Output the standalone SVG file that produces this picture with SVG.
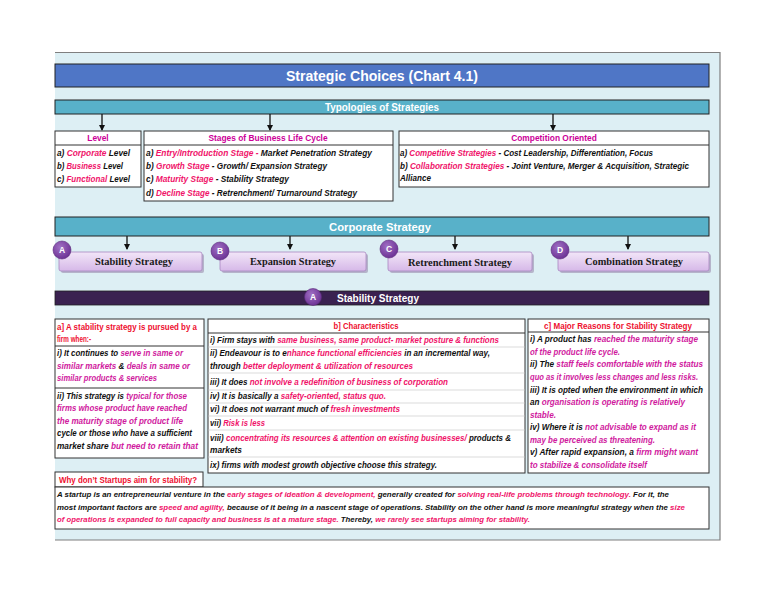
<svg xmlns="http://www.w3.org/2000/svg" width="768" height="594" viewBox="0 0 768 594">
<style>
.t{font-family:"Liberation Sans",Arial,sans-serif;font-size:8.4px;font-weight:bold;font-style:italic;fill:#111}
.bt{font-family:"Liberation Sans",Arial,sans-serif;font-size:8px;font-weight:bold;font-style:italic;fill:#111}
.p{fill:#F0146A}
.m{fill:#D01A9E}
.h{font-family:"Liberation Sans",Arial,sans-serif;font-size:8.4px;font-weight:bold;fill:#CC0099;text-anchor:middle}
.r{font-family:"Liberation Sans",Arial,sans-serif;font-size:8.6px;font-weight:bold;fill:#EE1030}
.wb{fill:#fff;stroke:#333;stroke-width:1}
.bar{stroke:#222;stroke-width:1}
.wt{font-family:"Liberation Sans",Arial,sans-serif;font-weight:bold;fill:#fff;text-anchor:middle}
.sb{fill:url(#lav);stroke:#A886C0;stroke-width:0.8}
.sbs{fill:#8E7AA0;opacity:0.5}
.st{font-family:"Liberation Serif","Times New Roman",serif;font-size:10.5px;font-weight:bold;fill:#1a1a1a;text-anchor:middle}
.c{fill:url(#pur);stroke:#5A2C7A;stroke-width:0.6}
.cl{font-family:"Liberation Sans",Arial,sans-serif;font-size:8.5px;font-weight:bold;fill:#fff;text-anchor:middle}
.sep{stroke:#c4c4c4;stroke-width:0.6}
.arr{stroke:#111;stroke-width:1.3;fill:none;marker-end:url(#ah)}
</style>
<defs>
<marker id="ah" markerWidth="6" markerHeight="6" refX="5" refY="3" orient="auto" markerUnits="userSpaceOnUse">
<path d="M0,0 L6,3 L0,6 z" fill="#111"/>
</marker>
<linearGradient id="lav" x1="0" y1="0" x2="0" y2="1">
<stop offset="0" stop-color="#F2E6F8"/>
<stop offset="1" stop-color="#D6B8E8"/>
</linearGradient>
<radialGradient id="pur" cx="0.4" cy="0.35" r="0.7">
<stop offset="0" stop-color="#A070C4"/>
<stop offset="1" stop-color="#6A2E92"/>
</radialGradient>
</defs>

<g id="panel">
<rect x="55" y="52" width="665" height="488" fill="#DDEFF4"/>
<path d="M55,52.5 H720 V540 H55" fill="none" stroke="#7f7f7f" stroke-width="1.2"/>
</g>

<g id="title">
<rect class="bar" x="55" y="64" width="654" height="23" fill="#4F76C6"/>
<text class="wt" x="382" y="81" font-size="15.5" textLength="192" lengthAdjust="spacingAndGlyphs">Strategic Choices (Chart 4.1)</text>
</g>

<g id="typologies">
<rect class="bar" x="55" y="100" width="654" height="14" fill="#58B1C9"/>
<text class="wt" x="382" y="110.5" font-size="10" textLength="114" lengthAdjust="spacingAndGlyphs">Typologies of Strategies</text>
</g>

<g id="connectors">
<line class="arr" x1="102" y1="114" x2="102" y2="130"/>
<line class="arr" x1="270" y1="114" x2="270" y2="130"/>
<line class="arr" x1="553" y1="114" x2="553" y2="130"/>
<line class="arr" x1="127" y1="236" x2="127" y2="249"/>
<line class="arr" x1="290" y1="236" x2="290" y2="249"/>
<line class="arr" x1="455" y1="236" x2="455" y2="249"/>
<line class="arr" x1="628" y1="236" x2="628" y2="249"/>
</g>

<g id="level">
<rect class="wb" x="55" y="131" width="86" height="56"/>
<line x1="55" y1="145" x2="141" y2="145" stroke="#333"/>
<text class="h" x="98" y="141">Level</text>
<text class="t" x="57" y="155.5" textLength="73" lengthAdjust="spacingAndGlyphs">a) <tspan class="p">Corporate</tspan> Level</text>
<text class="t" x="57" y="168.5" textLength="66" lengthAdjust="spacingAndGlyphs">b) <tspan class="p">Business</tspan> Level</text>
<text class="t" x="57" y="181.5" textLength="73" lengthAdjust="spacingAndGlyphs">c) <tspan class="p">Functional</tspan> Level</text>
</g>

<g id="stages">
<rect class="wb" x="144" y="131" width="249" height="70"/>
<line x1="144" y1="145" x2="393" y2="145" stroke="#333"/>
<text class="h" x="268" y="141">Stages of Business Life Cycle</text>
<text class="t" x="146" y="155.5" textLength="226" lengthAdjust="spacingAndGlyphs">a) <tspan class="p">Entry/Introduction Stage -</tspan> Market Penetration Strategy</text>
<text class="t" x="146" y="168.5" textLength="181" lengthAdjust="spacingAndGlyphs">b) <tspan class="p">Growth Stage</tspan> - Growth/ Expansion Strategy</text>
<text class="t" x="146" y="181.5" textLength="143" lengthAdjust="spacingAndGlyphs">c) <tspan class="p">Maturity Stage</tspan> - Stability Strategy</text>
<text class="t" x="146" y="195.5" textLength="211" lengthAdjust="spacingAndGlyphs">d) <tspan class="p">Decline Stage</tspan> - Retrenchment/ Turnaround Strategy</text>
</g>

<g id="competition">
<rect class="wb" x="399" y="131" width="310" height="56"/>
<line x1="399" y1="145" x2="709" y2="145" stroke="#333"/>
<text class="h" x="554" y="141">Competition Oriented</text>
<text class="t" x="400" y="155.5" textLength="253" lengthAdjust="spacingAndGlyphs">a) <tspan class="p">Competitive Strategies</tspan> - Cost Leadership, Differentiation, Focus</text>
<text class="t" x="400" y="168.5" textLength="289" lengthAdjust="spacingAndGlyphs">b) <tspan class="p">Collaboration Strategies</tspan> - Joint Venture, Merger &amp; Acquisition, Strategic</text>
<text class="t" x="400" y="181" textLength="31" lengthAdjust="spacingAndGlyphs">Alliance</text>
</g>

<g id="corporate">
<rect class="bar" x="55" y="217" width="654" height="19" fill="#58B1C9"/>
<text class="wt" x="380" y="230.5" font-size="11.5" textLength="102" lengthAdjust="spacingAndGlyphs">Corporate Strategy</text>
</g>

<g id="stability">
<rect class="sbs" x="61" y="254" width="143" height="19" rx="2"/>
<rect class="sb" x="59" y="252" width="143" height="19" rx="2"/>
<text class="st" x="134" y="265" textLength="78" lengthAdjust="spacingAndGlyphs">Stability Strategy</text>
<circle class="c" cx="62" cy="250" r="9"/>
<text class="cl" x="62" y="253">A</text>
</g>

<g id="expansion">
<rect class="sbs" x="222" y="254" width="146" height="19" rx="2"/>
<rect class="sb" x="220" y="252" width="146" height="19" rx="2"/>
<text class="st" x="293" y="265" textLength="86" lengthAdjust="spacingAndGlyphs">Expansion Strategy</text>
<circle class="c" cx="220" cy="251" r="9"/>
<text class="cl" x="220" y="254">B</text>
</g>

<g id="retrenchment">
<rect class="sbs" x="390" y="254" width="144" height="19" rx="2"/>
<rect class="sb" x="388" y="252" width="144" height="19" rx="2"/>
<text class="st" x="460" y="265.5" textLength="104" lengthAdjust="spacingAndGlyphs">Retrenchment Strategy</text>
<circle class="c" cx="389" cy="249" r="9"/>
<text class="cl" x="389" y="252">C</text>
</g>

<g id="combination">
<rect class="sbs" x="560" y="254" width="151" height="19" rx="2"/>
<rect class="sb" x="558" y="252" width="151" height="19" rx="2"/>
<text class="st" x="634" y="265" textLength="98" lengthAdjust="spacingAndGlyphs">Combination Strategy</text>
<circle class="c" cx="560" cy="250" r="9"/>
<text class="cl" x="560" y="253">D</text>
</g>

<g id="stability-bar">
<rect x="55" y="291" width="654" height="14" fill="#3A2150" stroke="#222" stroke-width="0.8"/>
<circle class="c" cx="313" cy="297" r="8.5"/>
<text class="cl" x="313" y="300">A</text>
<text class="wt" x="378" y="301.5" font-size="10" textLength="82" lengthAdjust="spacingAndGlyphs">Stability Strategy</text>
</g>

<g id="col-a">
<rect class="wb" x="55" y="319" width="149" height="139"/>
<line x1="55" y1="346" x2="204" y2="346" stroke="#333"/>
<line x1="55" y1="388" x2="204" y2="388" stroke="#333"/>
<text class="r" x="57" y="329.5" textLength="140" lengthAdjust="spacingAndGlyphs">a] A stability strategy is pursued by a</text>
<text class="r" x="57" y="341.5" textLength="34" lengthAdjust="spacingAndGlyphs">firm when:-</text>
<text class="t" x="57" y="356" textLength="126" lengthAdjust="spacingAndGlyphs">i) It continues to <tspan class="m">serve in same or</tspan></text>
<text class="t" x="57" y="368.5" textLength="133" lengthAdjust="spacingAndGlyphs"><tspan class="m">similar markets</tspan> &amp; <tspan class="m">deals in same or</tspan></text>
<text class="t" x="57" y="381" textLength="100" lengthAdjust="spacingAndGlyphs"><tspan class="m">similar products &amp; services</tspan></text>
<text class="t" x="57" y="398.5" textLength="130" lengthAdjust="spacingAndGlyphs">ii) This strategy is <tspan class="m">typical for those</tspan></text>
<text class="t" x="57" y="411" textLength="130" lengthAdjust="spacingAndGlyphs"><tspan class="m">firms whose product have reached</tspan></text>
<text class="t" x="57" y="423.5" textLength="126" lengthAdjust="spacingAndGlyphs"><tspan class="m">the maturity stage of product life</tspan></text>
<text class="t" x="57" y="436" textLength="135" lengthAdjust="spacingAndGlyphs">cycle or those who have a sufficient</text>
<text class="t" x="57" y="448.5" textLength="141" lengthAdjust="spacingAndGlyphs">market share <tspan class="m">but need to retain that</tspan></text>
</g>

<g id="col-b">
<rect class="wb" x="208" y="319" width="317" height="154"/>
<line x1="208" y1="333" x2="525" y2="333" stroke="#333"/>
<line class="sep" x1="208" y1="347" x2="525" y2="347"/>
<line class="sep" x1="208" y1="373" x2="525" y2="373"/>
<line class="sep" x1="208" y1="390" x2="525" y2="390"/>
<line class="sep" x1="208" y1="403" x2="525" y2="403"/>
<line class="sep" x1="208" y1="416" x2="525" y2="416"/>
<line class="sep" x1="208" y1="430" x2="525" y2="430"/>
<line class="sep" x1="208" y1="457" x2="525" y2="457"/>
<text class="r" x="366" y="329" text-anchor="middle" textLength="65" lengthAdjust="spacingAndGlyphs">b] Characteristics</text>
<text class="t" x="210" y="343" textLength="289" lengthAdjust="spacingAndGlyphs">i) Firm stays with <tspan class="p">same business, same product- market posture &amp; functions</tspan></text>
<text class="t" x="210" y="356" textLength="280" lengthAdjust="spacingAndGlyphs">ii) Endeavour is to e<tspan class="p">nhance functional efficiencies</tspan> in an incremental way,</text>
<text class="t" x="210" y="369" textLength="203" lengthAdjust="spacingAndGlyphs">through <tspan class="p">better deployment &amp; utilization of resources</tspan></text>
<text class="t" x="210" y="385" textLength="238" lengthAdjust="spacingAndGlyphs">iii) It does <tspan class="p">not involve a redefinition of business of corporation</tspan></text>
<text class="t" x="210" y="399" textLength="176" lengthAdjust="spacingAndGlyphs">iv) It is basically a <tspan class="p">safety-oriented, status quo.</tspan></text>
<text class="t" x="210" y="412" textLength="190" lengthAdjust="spacingAndGlyphs">vi) It does not warrant much of <tspan class="p">fresh investments</tspan></text>
<text class="t" x="210" y="426" textLength="55" lengthAdjust="spacingAndGlyphs">vii) <tspan class="p">Risk is less</tspan></text>
<text class="t" x="210" y="441" textLength="301" lengthAdjust="spacingAndGlyphs">viii) <tspan class="p">concentrating its resources &amp; attention on existing businesses/</tspan> products &amp;</text>
<text class="t" x="210" y="453" textLength="32" lengthAdjust="spacingAndGlyphs">markets</text>
<text class="t" x="210" y="468" textLength="227" lengthAdjust="spacingAndGlyphs">ix) firms with modest growth objective choose this strategy.</text>
</g>

<g id="col-c">
<rect class="wb" x="528" y="319" width="181" height="154"/>
<line x1="528" y1="332" x2="709" y2="332" stroke="#333"/>
<text class="r" x="618" y="329" text-anchor="middle" textLength="148" lengthAdjust="spacingAndGlyphs">c] Major Reasons for Stability Strategy</text>
<text class="t" x="530" y="342" textLength="168" lengthAdjust="spacingAndGlyphs">i) A product has <tspan class="m">reached the maturity stage</tspan></text>
<text class="t" x="530" y="354.5" textLength="90" lengthAdjust="spacingAndGlyphs"><tspan class="m">of the product life cycle.</tspan></text>
<text class="t" x="530" y="367" textLength="173" lengthAdjust="spacingAndGlyphs">ii) The <tspan class="m">staff feels comfortable with the status</tspan></text>
<text class="t" x="530" y="379.5" textLength="168" lengthAdjust="spacingAndGlyphs"><tspan class="m">quo as it involves less changes and less risks.</tspan></text>
<text class="t" x="530" y="392.5" textLength="173" lengthAdjust="spacingAndGlyphs">iii) It is opted when the environment in which</text>
<text class="t" x="530" y="405" textLength="155" lengthAdjust="spacingAndGlyphs">an <tspan class="m">organisation is operating is relatively</tspan></text>
<text class="t" x="530" y="417.5" textLength="26" lengthAdjust="spacingAndGlyphs"><tspan class="m">stable.</tspan></text>
<text class="t" x="530" y="430" textLength="166" lengthAdjust="spacingAndGlyphs">iv) Where it is <tspan class="m">not advisable to expand as it</tspan></text>
<text class="t" x="530" y="442.5" textLength="125" lengthAdjust="spacingAndGlyphs"><tspan class="m">may be perceived as threatening.</tspan></text>
<text class="t" x="530" y="455" textLength="168" lengthAdjust="spacingAndGlyphs">v) After rapid expansion, a <tspan class="m">firm might want</tspan></text>
<text class="t" x="530" y="467.5" textLength="117" lengthAdjust="spacingAndGlyphs"><tspan class="m">to stabilize &amp; consolidate itself</tspan></text>
</g>

<g id="startups">
<rect class="wb" x="55" y="472" width="148" height="15"/>
<text class="r" x="59" y="483" font-size="8.8" textLength="138" lengthAdjust="spacingAndGlyphs">Why don’t Startups aim for stability?</text>
<rect class="wb" x="55" y="487" width="654" height="42"/>
<text class="bt" x="57" y="497" textLength="612" lengthAdjust="spacingAndGlyphs">A startup is an entrepreneurial venture in the <tspan class="p">early stages of ideation &amp; development,</tspan> generally created for <tspan class="p">solving real-life problems through technology.</tspan> For it, the</text>
<text class="bt" x="57" y="509.5" textLength="628" lengthAdjust="spacingAndGlyphs">most important factors are <tspan class="p">speed and agility,</tspan> because of it being in a nascent stage of operations. Stability on the other hand is more meaningful strategy when the <tspan class="p">size</tspan></text>
<text class="bt" x="57" y="522" textLength="473" lengthAdjust="spacingAndGlyphs"><tspan class="p">of operations is expanded to full capacity and business is at a mature stage.</tspan> Thereby, <tspan class="p">we rarely see startups aiming for stability.</tspan></text>
</g>
</svg>
